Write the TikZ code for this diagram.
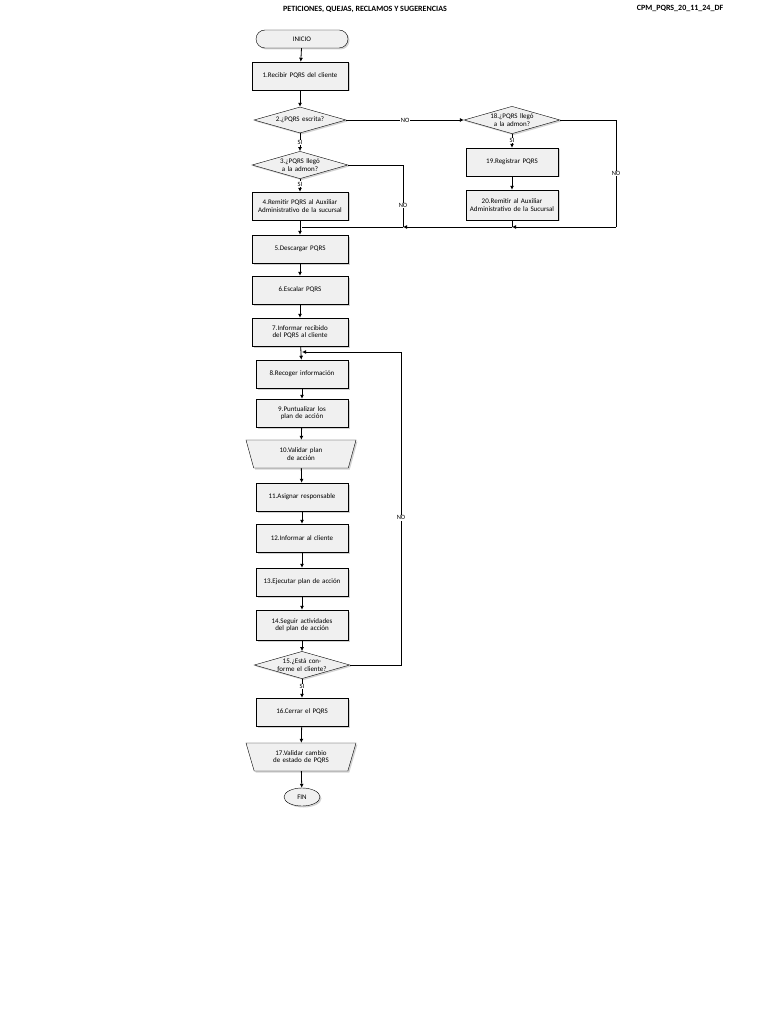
\documentclass[tikz,border=0pt]{standalone}
\usepackage{fontspec}
\setmainfont{Carlito}
\usetikzlibrary{positioning,shapes.geometric,shadows,arrows.meta}
\tikzset{
  base/.style={draw,fill=gray!12,drop shadow={opacity=0.35,shadow xshift=1.5pt,shadow yshift=-1.5pt},font=\fontsize{7}{7.6}\selectfont,align=center,text width=88pt,inner sep=1pt},
  procbox/.style={base,rectangle,minimum width=96pt,minimum height=28pt},
  decis/.style={base,diamond,aspect=3.5,minimum width=92pt,minimum height=26pt,inner sep=0pt,text width=52pt},
  valid/.style={base,trapezium,shape border rotate=180,trapezium stretches body,trapezium angle=62,minimum width=110pt,minimum height=28pt,text width=60pt},
  term/.style={draw,fill=gray!12,font=\fontsize{7}{8}\selectfont,drop shadow={opacity=0.35,shadow xshift=1.5pt,shadow yshift=-1.5pt}},
  flow/.style={-{Latex[length=4pt,width=4pt]},thick},
  lbl/.style={fill=white,font=\fontsize{6.5}{7}\selectfont,inner sep=0.5pt}
}
\begin{document}
\begin{tikzpicture}[x=1pt,y=-1pt]
  \useasboundingbox (0,0) rectangle (768,1024);
  \node[font=\bfseries\fontsize{8}{9}\selectfont] (title) at (365,9) {PETICIONES, QUEJAS, RECLAMOS Y SUGERENCIAS};
  \node[font=\bfseries\fontsize{8}{9}\selectfont] (code) at (680,8) {CPM\_PQRS\_20\_11\_24\_DF};

  \node[term,rounded corners=9pt,minimum width=92pt,minimum height=18pt] (ini) at (302,39) {INICIO};
  \node[procbox] (p1) at (300,76) {1.Recibir PQRS del cliente};
  \node[decis] (d2) at (300,120) {2.¿PQRS escrita?};
  \node[decis] (d3) at (300,165) {3.¿PQRS llegó a la admon?};
  \node[procbox] (p4) at (300,206) {4.Remitir PQRS al Auxiliar Administrativo de la sucursal};
  \node[procbox] (p5) at (300,249) {5.Descargar PQRS};
  \node[procbox] (p6) at (300,290) {6.Escalar PQRS};
  \node[procbox] (p7) at (300,332) {7.Informar recibido del PQRS al cliente};
  \node[procbox,minimum width=92pt] (p8) at (302,374) {8.Recoger información};
  \node[procbox,minimum width=92pt] (p9) at (302,413) {9.Puntualizar los plan de acción};
  \node[valid] (v10) at (301,454) {10.Validar plan de acción};
  \node[procbox,minimum width=92pt] (p11) at (302,497) {11.Asignar responsable};
  \node[procbox,minimum width=92pt] (p12) at (302,538) {12.Informar al cliente};
  \node[procbox,minimum width=92pt] (p13) at (302,582) {13.Ejecutar plan de acción};
  \node[procbox,minimum width=92pt,minimum height=30pt] (p14) at (302,625) {14.Seguir actividades del plan de acción};
  \node[decis] (d15) at (302,665) {15.¿Está conforme el cliente?};
  \node[procbox,minimum width=92pt] (p16) at (302,712) {16.Cerrar el PQRS};
  \node[valid] (v17) at (301,757) {17.Validar cambio de estado de PQRS};
  \node[term,ellipse,minimum width=36pt,minimum height=18pt,inner sep=0pt] (fin) at (302,797) {FIN};

  \node[decis] (d18) at (512,120) {18.¿PQRS llegó a la admon?};
  \node[procbox,minimum width=92pt] (p19) at (512,162) {19.Registrar PQRS};
  \node[procbox,minimum width=92pt,minimum height=30pt] (p20) at (512,205) {20.Remitir al Auxiliar Administrativo de la Sucursal};

  \coordinate (m0) at (302,227);
  \coordinate (m1) at (403,227);
  \coordinate (m2) at (512,227);
  \coordinate (m3) at (616,227);
  \coordinate (r18) at (616,120);
  \coordinate (r3) at (403,165);
  \coordinate (l1) at (401,665);
  \coordinate (l2) at (401,352);
  \coordinate (l3) at (302,352);

  \draw[flow] (ini) -- (p1);
  \draw[flow] (p1) -- (d2);
  \draw[flow] (d2) -- node[lbl] {SI} (d3);
  \draw[flow] (d3) -- node[lbl,pos=0.4] {SI} (p4);
  \draw[flow] (d2) -- node[lbl] {NO} (d18);
  \draw[flow] (d18) -- node[lbl] {SI} (p19);
  \draw[flow] (p19) -- (p20);
  \draw[thick] (d18.east) -- (r18) -- node[lbl] {NO} (m3);
  \draw[flow] (m3) -- (m2);
  \draw[flow] (m2) -- (m1);
  \draw[thick] (m1) -- (m0);
  \draw[thick] (p20) -- (m2);
  \draw[thick] (d3.east) -- (r3) -- node[lbl,pos=0.65] {NO} (m1);
  \draw[flow] (p4) -- (p5);
  \draw[flow] (p5) -- (p6);
  \draw[flow] (p6) -- (p7);
  \draw[flow] (p7) -- (p8);
  \draw[flow] (p8) -- (p9);
  \draw[flow] (p9) -- (v10);
  \draw[flow] (v10) -- (p11);
  \draw[flow] (p11) -- (p12);
  \draw[flow] (p12) -- (p13);
  \draw[flow] (p13) -- (p14);
  \draw[flow] (p14) -- (d15);
  \draw[flow] (d15) -- node[lbl,pos=0.4] {SI} (p16);
  \draw[thick] (d15.east) -- (l1) -- node[lbl,pos=0.47] {NO} (l2);
  \draw[flow] (l2) -- (l3);
  \draw[flow] (p16) -- (v17);
  \draw[flow] (v17) -- (fin);
\end{tikzpicture}
\end{document}
